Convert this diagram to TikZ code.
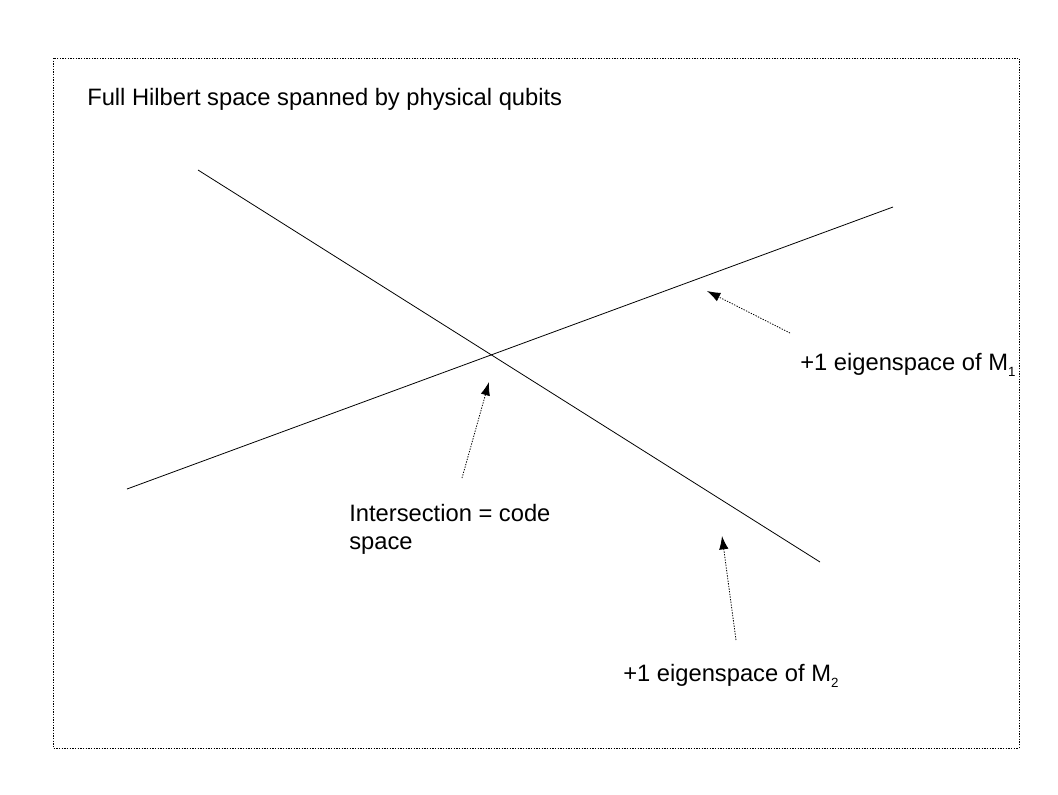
\documentclass[tikz,border=0pt]{standalone}
\usepackage{fontspec}
\setmainfont{Liberation Sans}
\usetikzlibrary{arrows.meta}
\newcommand{\lowsub}[1]{\raisebox{-4.5pt}{\fontsize{10}{10}\selectfont #1}}
\begin{document}
\begin{tikzpicture}[x=0.75pt,y=-0.75pt,
  lbl/.style={anchor=base west,inner sep=0pt,font=\fontsize{17.8}{20.3}\selectfont},
  space/.style={line width=0.6pt,black},
  pointer/.style={line width=0.6pt,dash pattern=on 1pt off 1pt,-{Latex[length=10pt,width=7pt]}},
  frame/.style={line width=0.6pt,dash pattern=on 1pt off 1pt}]
\useasboundingbox (0,0) rectangle (1058,794);
\draw[frame] (53,58) rectangle (1019,748);
\node[lbl] (title) at (87,105) {Full Hilbert space spanned by physical qubits};
\coordinate (a1) at (198,170);
\coordinate (a2) at (820,562);
\coordinate (b1) at (127,489);
\coordinate (b2) at (893,207);
\draw[space] (a1) -- (a2);
\draw[space] (b1) -- (b2);
\node[lbl] (m1) at (800,370) {+1 eigenspace of M\lowsub{1}};
\node[lbl,align=left] (code) at (349,549) {Intersection = code\\space};
\node[lbl] (m2) at (623,681) {+1 eigenspace of M\lowsub{2}};
\coordinate (p1s) at (790,333);
\coordinate (p1e) at (707,291);
\coordinate (p2s) at (462,478);
\coordinate (p2e) at (489,382);
\coordinate (p3s) at (736,640);
\coordinate (p3e) at (722,536);
\draw[pointer] (p1s) -- (p1e);
\draw[pointer] (p2s) -- (p2e);
\draw[pointer] (p3s) -- (p3e);
\end{tikzpicture}
\end{document}
